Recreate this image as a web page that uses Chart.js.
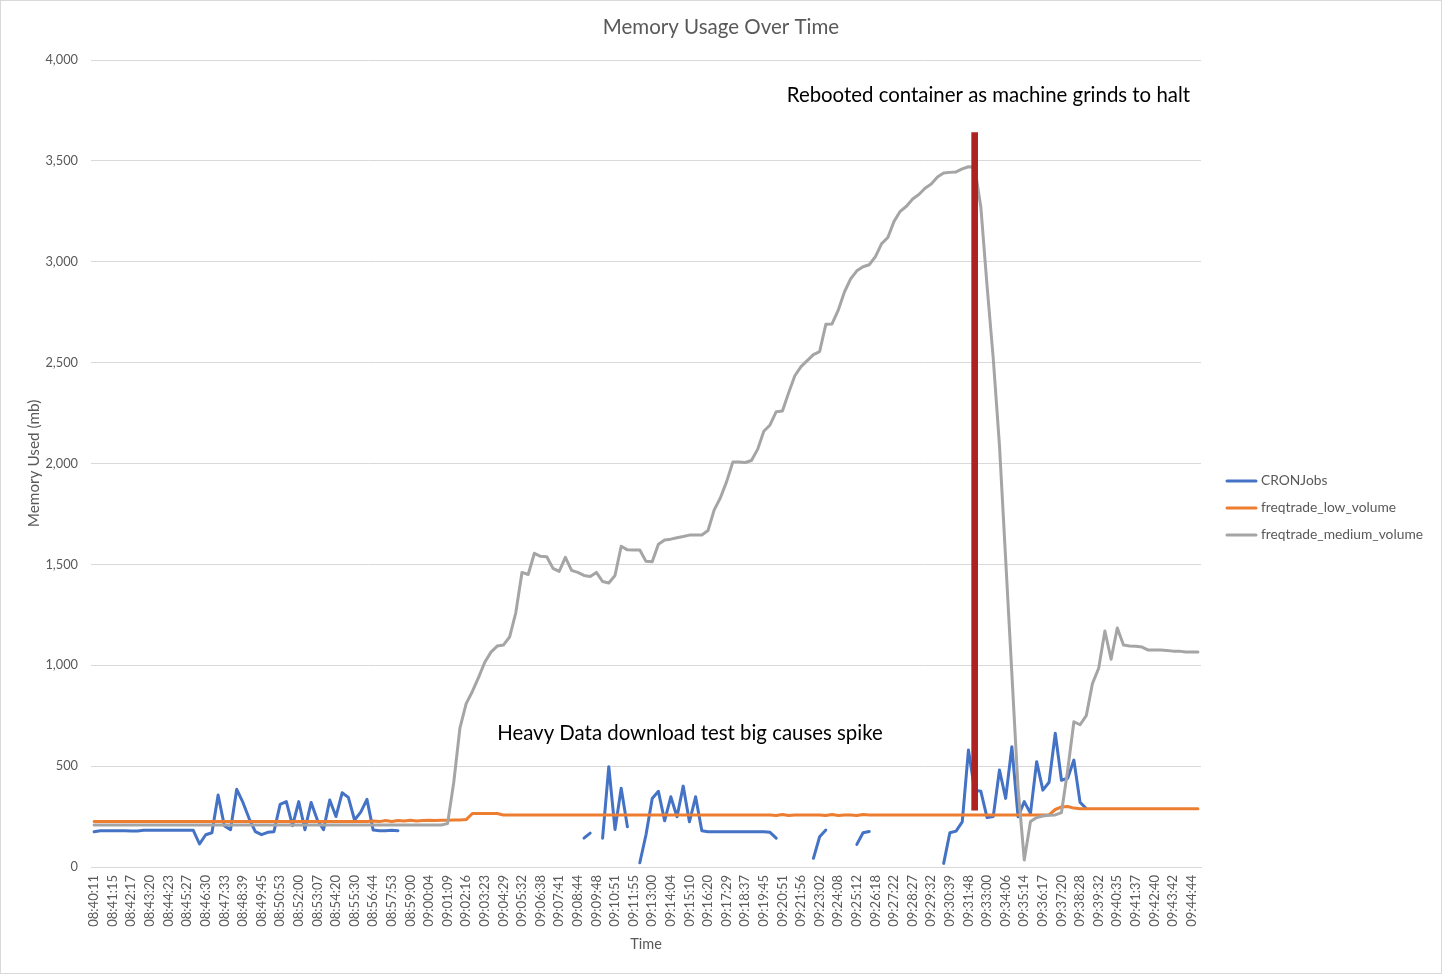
<!DOCTYPE html>
<html>
<head>
<meta charset="utf-8">
<title>Memory Usage Over Time</title>
<script src="https://cdn.jsdelivr.net/npm/chart.js@4.4.1/dist/chart.umd.min.js"></script>
<style>
  html, body { margin: 0; padding: 0; background: #fff; }
  #wrap { width: 1442px; height: 974px; }
</style>
</head>
<body>
<div id="wrap"><canvas id="memChart" width="1442" height="974"></canvas></div>
<script>
// labels printed on the time axis, one for every third sample
const timeTicks = [
    '08:40:11', '08:41:15', '08:42:17', '08:43:20', '08:44:23', '08:45:27', '08:46:30', '08:47:33',
    '08:48:39', '08:49:45', '08:50:53', '08:52:00', '08:53:07', '08:54:20', '08:55:30', '08:56:44',
    '08:57:53', '08:59:00', '09:00:04', '09:01:09', '09:02:16', '09:03:23', '09:04:29', '09:05:32',
    '09:06:38', '09:07:41', '09:08:44', '09:09:48', '09:10:51', '09:11:55', '09:13:00', '09:14:04',
    '09:15:10', '09:16:20', '09:17:29', '09:18:37', '09:19:45', '09:20:51', '09:21:56', '09:23:02',
    '09:24:08', '09:25:12', '09:26:18', '09:27:22', '09:28:27', '09:29:32', '09:30:39', '09:31:48',
    '09:33:00', '09:34:06', '09:35:14', '09:36:17', '09:37:20', '09:38:28', '09:39:32', '09:40:35',
    '09:41:37', '09:42:40', '09:43:42', '09:44:44'
];

// memory used (mb) per sample
const cronJobs = [
    175, 180, 180, 180, 180, 180, 178, 178, 182, 182,
    182, 182, 182, 182, 182, 182, 182, 114, 160, 170,
    357, 205, 185, 385, 320, 240, 175, 160, 172, 175,
    310, 324, 205, 324, 185, 320, 233, 185, 332, 250,
    368, 345, 233, 272, 335, 183, 180, 180, 182, 180,
    null, null, null, null, null, null, null, null, null, null,
    null, null, null, null, null, null, null, null, null, null,
    null, null, null, null, null, null, null, null, null, 143,
    168, null, 143, 497, 186, 390, 200, null, 21, 160,
    340, 375, 229, 348, 249, 401, 224, 348, 180, 175,
    175, 175, 175, 175, 175, 175, 175, 175, 175, 172,
    143, null, null, null, null, null, 43, 150, 183, null,
    null, null, null, 112, 170, 176, null, null, null, null,
    null, null, null, null, null, null, null, 18, 170, 178,
    224, 580, 380, 375, 245, 250, 481, 340, 596, 249,
    324, 266, 522, 381, 420, 663, 430, 440, 530, 320,
    290, null, null, null, null, null, null, null, null, null,
    null, null, null, null, null, null, null, null, null
];

const lowVolume = [
    225, 225, 225, 225, 225, 225, 225, 225, 225, 225,
    225, 225, 225, 225, 225, 225, 225, 225, 225, 225,
    225, 225, 225, 225, 225, 225, 225, 225, 225, 225,
    225, 225, 225, 225, 225, 225, 225, 225, 225, 225,
    225, 225, 225, 225, 225, 228, 225, 230, 226, 230,
    228, 232, 228, 230, 232, 230, 232, 232, 233, 233,
    235, 265, 265, 265, 265, 265, 258, 258, 258, 258,
    258, 258, 258, 258, 258, 258, 258, 258, 258, 258,
    258, 258, 258, 258, 258, 258, 258, 258, 258, 258,
    258, 258, 258, 258, 258, 258, 258, 258, 258, 258,
    258, 258, 258, 258, 258, 258, 258, 258, 258, 258,
    255, 260, 255, 258, 258, 258, 258, 258, 255, 260,
    255, 258, 258, 255, 260, 258, 258, 258, 258, 258,
    258, 258, 258, 258, 258, 258, 258, 258, 258, 258,
    258, 258, 258, 258, 258, 258, 258, 258, 258, 258,
    258, 258, 258, 258, 258, 285, 298, 300, 292, 289,
    289, 289, 289, 289, 289, 289, 289, 289, 289, 289,
    289, 289, 289, 289, 289, 289, 289, 289, 289
];

const mediumVolume = [
    208, 208, 208, 208, 208, 208, 208, 208, 208, 208,
    208, 208, 208, 208, 208, 208, 208, 208, 208, 208,
    208, 208, 208, 208, 208, 208, 208, 208, 208, 208,
    208, 208, 208, 208, 208, 208, 208, 208, 208, 208,
    208, 208, 208, 208, 208, 208, 208, 208, 208, 208,
    208, 208, 208, 208, 208, 208, 208, 215, 420, 690,
    810, 870, 940, 1015, 1065, 1095, 1100, 1140, 1260, 1460,
    1450, 1555, 1540, 1538, 1480, 1465, 1535, 1470, 1460, 1445,
    1440, 1460, 1415, 1408, 1445, 1590, 1572, 1571, 1571, 1515,
    1513, 1600, 1621, 1625, 1632, 1638, 1645, 1646, 1646, 1668,
    1770, 1830, 1910, 2007, 2007, 2005, 2015, 2070, 2160, 2191,
    2257, 2260, 2350, 2435, 2480, 2510, 2540, 2555, 2690, 2692,
    2760, 2850, 2915, 2955, 2975, 2985, 3025, 3090, 3120, 3200,
    3250, 3275, 3311, 3333, 3364, 3385, 3420, 3440, 3443, 3445,
    3460, 3471, 3470, 3270, 2880, 2520, 2090, 1525, 958, 390,
    35, 225, 245, 253, 256, 258, 270, 480, 720, 705,
    750, 910, 985, 1170, 1030, 1185, 1100, 1095, 1094, 1090,
    1075, 1075, 1075, 1073, 1070, 1070, 1066, 1066, 1066
];

// red marker drawn where the container was rebooted
const rebootIndex = 142;
const rebootRange = [282, 3640];

// text notes placed on the plot (sample index, mb)
const noteTexts = ['Rebooted container as machine grinds to halt', 'Heavy Data download test big causes spike'];
const noteIndex = [111.7, 65];
const noteValue = [3826, 664];

const chartTitle = 'Memory Usage Over Time';

const categories = cronJobs.map((v, i) => (i % 3 === 0 ? timeTicks[i / 3] : ''));
const rebootData = categories.map((c, i) => (i === rebootIndex ? rebootRange : null));

const FONT = 'Lato';
const GREY_TEXT = '#595959';

const excelDecor = {
    id: 'excelDecor',
    beforeDraw(chart) {
        const { ctx, width, height } = chart;
        ctx.save();
        ctx.fillStyle = '#ffffff';
        ctx.fillRect(0, 0, width, height);
        ctx.strokeStyle = '#d9d9d9';
        ctx.lineWidth = 1;
        ctx.strokeRect(0.5, 0.5, width - 1, height - 1);

        // title is centred on the whole frame, not on the plot
        ctx.font = '20.5px ' + FONT;
        ctx.fillStyle = GREY_TEXT;
        ctx.textAlign = 'center';
        ctx.textBaseline = 'middle';
        ctx.fillText(chartTitle, width / 2, 27);
        ctx.restore();
    },
    afterDraw(chart) {
        const { ctx, chartArea } = chart;
        const x = chart.scales.x;
        const y = chart.scales.y;
        ctx.save();

        // notes
        ctx.font = '20.4px ' + FONT;
        ctx.fillStyle = '#000000';
        ctx.textAlign = 'left';
        ctx.textBaseline = 'middle';
        noteTexts.forEach((t, k) => {
            ctx.fillText(t, x.getPixelForValue(noteIndex[k]), y.getPixelForValue(noteValue[k]));
        });

        // legend on the right
        const lines = chart.data.datasets.filter(d => d.type === 'line');
        ctx.font = '13.8px ' + FONT;
        ctx.fillStyle = GREY_TEXT;
        ctx.lineCap = 'round';
        lines.forEach((d, k) => {
            const ly = chartArea.top + 421 + k * 27;
            const lx = chartArea.right + 26;
            ctx.strokeStyle = d.borderColor;
            ctx.lineWidth = 3;
            ctx.beginPath();
            ctx.moveTo(lx, ly);
            ctx.lineTo(lx + 29, ly);
            ctx.stroke();
            ctx.fillText(d.label, lx + 34, ly);
        });
        ctx.restore();
    }
};

const lineStyle = {
    type: 'line',
    borderWidth: 3,
    pointRadius: 0,
    pointHoverRadius: 0,
    tension: 0,
    spanGaps: false,
    borderJoinStyle: 'round',
    borderCapStyle: 'round',
    fill: false
};

new Chart(document.getElementById('memChart'), {
    type: 'line',
    data: {
        labels: categories,
        datasets: [
            Object.assign({}, lineStyle, {
                label: 'CRONJobs',
                data: cronJobs,
                borderColor: '#4472C4',
                backgroundColor: '#4472C4',
                order: 3
            }),
            Object.assign({}, lineStyle, {
                label: 'freqtrade_low_volume',
                data: lowVolume,
                borderColor: '#ED7D31',
                backgroundColor: '#ED7D31',
                order: 2
            }),
            Object.assign({}, lineStyle, {
                label: 'freqtrade_medium_volume',
                data: mediumVolume,
                borderColor: '#A5A5A5',
                backgroundColor: '#A5A5A5',
                order: 1
            }),
            {
                type: 'bar',
                label: 'reboot',
                data: rebootData,
                backgroundColor: '#AE2321',
                barThickness: 6,
                grouped: false,
                order: 0
            }
        ]
    },
    options: {
        responsive: false,
        animation: false,
        devicePixelRatio: 1,
        layout: { padding: { left: 0, right: 241, top: 60, bottom: 0 } },
        plugins: {
            legend: { display: false },
            tooltip: { enabled: false },
            title: { display: false }
        },
        scales: {
            x: {
                type: 'category',
                offset: true,
                grid: { display: false, drawTicks: false },
                border: { display: true, color: '#d9d9d9', width: 1 },
                ticks: {
                    autoSkip: false,
                    minRotation: 90,
                    maxRotation: 90,
                    padding: 8,
                    color: GREY_TEXT,
                    font: { family: FONT, size: 13 }
                },
                title: {
                    display: true,
                    text: 'Time',
                    color: GREY_TEXT,
                    font: { family: FONT, size: 14.5 },
                    padding: { top: 0, bottom: 21 }
                },
                afterFit(scale) { scale.height = 107; }
            },
            y: {
                min: 0,
                max: 4000,
                grid: { color: '#d9d9d9', lineWidth: 1, drawTicks: false },
                border: { display: false },
                ticks: {
                    stepSize: 500,
                    padding: 13,
                    color: GREY_TEXT,
                    font: { family: FONT, size: 12.8 },
                    callback: v => v.toLocaleString('en-US')
                },
                title: {
                    display: true,
                    text: 'Memory Used (mb)',
                    color: GREY_TEXT,
                    font: { family: FONT, size: 15.3 },
                    padding: { top: 25, bottom: 0 }
                },
                afterFit(scale) { scale.width = 91; }
            }
        }
    },
    plugins: [excelDecor]
});
</script>
</body>
</html>
